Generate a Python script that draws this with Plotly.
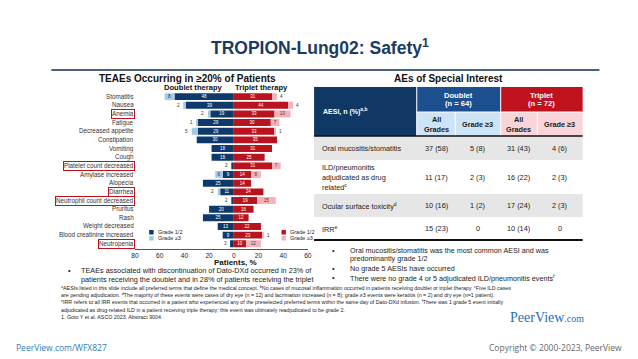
import plotly.graph_objects as go

W, H = 638, 359
FONT = "Liberation Sans, Arial, sans-serif"

# ---------------- data ----------------
categories = ["Stomatitis", "Nausea", "Anemia", "Fatigue", "Decreased appetite", "Constipation",
              "Vomiting", "Cough", "Platelet count decreased", "Amylase increased", "Alopecia",
              "Diarrhea", "Neutrophil count decreased", "Pruritus", "Rash", "Weight decreased",
              "Blood creatinine increased", "Neutropenia"]
highlighted = ["Anemia", "Platelet count decreased", "Diarrhea", "Neutrophil count decreased", "Neutropenia"]
doublet_grade12 = [48, 39, 19, 29, 29, 30, 18, 18, 2, 9, 25, 11, 2, 20, 25, 13, 9, 3]
doublet_grade3 = [8, 2, 2, 1, 5, 0, 0, 0, 0, 6, 0, 2, 0, 0, 0, 0, 0, 0]
triplet_grade12 = [31, 44, 33, 30, 33, 35, 31, 25, 31, 14, 14, 24, 19, 16, 12, 22, 23, 10]
triplet_grade3 = [4, 4, 13, 7, 1, 0, 0, 0, 7, 8, 0, 0, 15, 0, 0, 0, 1, 12]
tick_values = [-80, -60, -40, -20, 0, 20, 40, 60]
tick_labels = ["80", "60", "40", "20", "0", "20", "40", "60"]

aesi_rows = ["Oral mucositis/stomatitis",
             ["ILD/pneumonitis", "adjudicated as drug", "related<sup>c</sup>"],
             "Ocular surface toxicity<sup>d</sup>",
             "IRR<sup>e</sup>"]
doublet_all = ["37 (58)", "11 (17)", "10 (16)", "15 (23)"]
doublet_g3 = ["5 (8)", "2 (3)", "1 (2)", "0"]
triplet_all = ["31 (43)", "16 (22)", "17 (24)", "10 (14)"]
triplet_g3 = ["4 (6)", "2 (3)", "2 (3)", "0"]

right_bullets = [["Oral mucositis/stomatitis was the most common AESI and was", "predominantly grade 1/2"],
                 ["No grade 5 AESIs have occurred"],
                 ["There were no grade 4 or 5 adjudicated ILD/pneumonitis events<sup>f</sup>"]]
left_bullet = ["TEAEs associated with discontinuation of Dato-DXd occurred in 23% of",
               "patients receiving the doublet and in 28% of patients receiving the triplet"]
footnotes = [
    "<sup>a</sup>AESIs listed in this slide include all preferred terms that define the medical concept. <sup>b</sup>No cases of mucosal inflammation occurred in patients receiving doublet or triplet therapy. <sup>c</sup>Five ILD cases",
    "are pending adjudication. <sup>d</sup>The majority of these events were cases of dry eye (n = 12) and lacrimation increased (n = 8); grade \u22653 events were keratitis (n = 2) and dry eye (n=1 patient).",
    "<sup>e</sup>IRR refers to all IRR events that occurred in a patient who experienced any of the preselected preferred terms within the same day of Dato-DXd infusion. <sup>f</sup>There was 1 grade 5 event initially",
    "adjudicated as drug-related ILD in a patient receiving triple therapy; this event was ultimately readjudicated to be grade 2.",
    "1. Goto Y et al. ASCO 2023. Abstract 9004.",
]

# ---------------- styles ----------------
C_D12, C_D3 = "#0d3a6a", "#a4c9ea"
C_T12, C_T3 = "#b8131e", "#f4b3bb"
RED_BOX = "#c0101a"
NAVY = "#0f3864"
TITLE_C = "#1b3b60"


def X(px):
    return px / W


def Y(py):
    return 1 - py / H


annotations = []
shapes = []


def txt(x, y, s, size, color="#222", bold=False, xanchor="center", family=FONT):
    if bold:
        s = "<b>" + s + "</b>"
    annotations.append(dict(x=X(x), y=Y(y), xref="paper", yref="paper", text=s, showarrow=False,
                            xanchor=xanchor, yanchor="middle",
                            align="left" if xanchor == "left" else ("right" if xanchor == "right" else "center"),
                            font=dict(size=size, color=color, family=family)))


def rect(x0, y0, x1, y1, fill):
    shapes.append(dict(type="rect", xref="paper", yref="paper", x0=X(x0), x1=X(x1), y0=Y(y1), y1=Y(y0),
                       fillcolor=fill, line=dict(width=0), layer="below"))


def hline(x0, x1, y, color, width):
    shapes.append(dict(type="line", xref="paper", yref="paper", x0=X(x0), x1=X(x1), y0=Y(y), y1=Y(y),
                       line=dict(color=color, width=width)))


def vline(x, y0, y1, color, width):
    shapes.append(dict(type="line", xref="paper", yref="paper", x0=X(x), x1=X(x), y0=Y(y0), y1=Y(y1),
                       line=dict(color=color, width=width)))


fig = go.Figure()


def inside(vals):
    return [str(v) if v >= 6 else "" for v in vals]


traces = [
    ([-v for v in doublet_grade12], doublet_grade12, C_D12, "white"),
    ([-v for v in doublet_grade3], doublet_grade3, C_D3, "#333"),
    (triplet_grade12, triplet_grade12, C_T12, "white"),
    (triplet_grade3, triplet_grade3, C_T3, "#333"),
]
for xs, vals, col, tcol in traces:
    fig.add_trace(go.Bar(y=categories, x=xs, orientation="h",
                         marker=dict(color=col, line=dict(width=0)),
                         text=inside(vals), textposition="inside", insidetextanchor="middle",
                         constraintext="none", cliponaxis=False,
                         textangle=0, textfont=dict(size=4.5, color=tcol, family=FONT),
                         hoverinfo="skip", showlegend=False))

# outside labels for small segments
for i, cat in enumerate(categories):
    for side, g12, g3 in ((-1, doublet_grade12[i], doublet_grade3[i]), (1, triplet_grade12[i], triplet_grade3[i])):
        small = None
        if 0 < g3 < 6:
            small = g3
        elif g3 == 0 and 0 < g12 < 6:
            small = g12
        if small is not None:
            annotations.append(dict(x=side * (g12 + g3 + 4), y=cat, xref="x", yref="y", text=str(small),
                                    showarrow=False, font=dict(size=4.6, color="#333", family=FONT)))

# category labels (boxed for highlighted)
for cat in categories:
    annotations.append(dict(x=X(133), xref="paper", y=cat, yref="y", xanchor="right", yanchor="middle",
                            text=cat, showarrow=False, font=dict(size=6.3, color="#333", family=FONT),
                            bordercolor=RED_BOX if cat in highlighted else "rgba(0,0,0,0)",
                            borderwidth=1, borderpad=0, height=7.5))

# ---------------- titles ----------------
txt(320, 47, "TROPION-Lung02: Safety<sup>1</sup>", 17.5, TITLE_C, bold=True)
hline(48, 603, 70, "#46617f", 2)
txt(186, 78, "TEAEs Occurring in \u226520% of Patients", 10, "#111", bold=True)
txt(450, 78, "AEs of Special Interest", 10, "#111", bold=True)
txt(192, 88, "Doublet therapy", 7.6, "#111", bold=True)
txt(261, 88, "Triplet therapy", 7.6, "#111", bold=True)
txt(234, 262.5, "Patients, %", 8, "#111", bold=True)

# manual legends
for (lx, c1, c2) in ((147, C_D12, C_D3), (281, C_T12, C_T3)):
    rect(lx, 230, lx + 4.5, 234.5, c1)
    rect(lx, 236, lx + 4.5, 240.5, c2)
    txt(lx + 7, 232.2, "Grade 1/2", 5.5, "#222", xanchor="left")
    txt(lx + 7, 238.2, "Grade \u22653", 5.5, "#222", xanchor="left")

# left bullet
txt(66, 270.5, "\u2022", 7.5, "#222")
txt(76, 270.5, left_bullet[0], 7.3, "#222", xanchor="left")
txt(76, 279.5, left_bullet[1], 7.3, "#222", xanchor="left")

# ---------------- table ----------------
tx = [314, 418, 457, 503, 540, 586]
ty = [87, 112, 136]
row_y = [136, 160, 194, 217, 240]
rect(tx[0], ty[0], tx[1], ty[2], NAVY)
rect(tx[1], ty[0], tx[3], ty[1], "#1c4f8e")
rect(tx[3], ty[0], tx[5], ty[1], "#c0121d")
rect(tx[1], ty[1], tx[3], ty[2], "#cde3f6")
rect(tx[3], ty[1], tx[5], ty[2], "#f9d4d9")
for r in range(4):
    if r % 2 == 0:
        rect(tx[0], row_y[r], tx[5], row_y[r + 1], "#e6e6e6")
vline(tx[1], ty[0], ty[2], "white", 1)
vline(tx[3], ty[0], ty[2], "white", 1)
vline(tx[2], ty[1], ty[2], "white", 1)
vline(tx[4], ty[1], ty[2], "white", 1)
hline(tx[1], tx[5], ty[1], "white", 1)
hline(tx[0], tx[5], ty[2], "#111", 1.5)
hline(tx[0], tx[5], row_y[-1], "#111", 2)

txt(321, 111.5, "AESI, n (%)<sup>a,b</sup>", 7, "white", bold=True, xanchor="left")
txt((tx[1] + tx[3]) / 2, 95, "Doublet", 7.6, "white", bold=True)
txt((tx[1] + tx[3]) / 2, 103.5, "(n = 64)", 7.6, "white", bold=True)
txt((tx[3] + tx[5]) / 2, 95, "Triplet", 7.6, "white", bold=True)
txt((tx[3] + tx[5]) / 2, 103.5, "(n = 72)", 7.6, "white", bold=True)
sub_cols = [(tx[1], tx[2]), (tx[2], tx[3]), (tx[3], tx[4]), (tx[4], tx[5])]
for j, (a, b) in enumerate(sub_cols):
    cx = (a + b) / 2
    if j % 2 == 0:
        txt(cx, 119, "All", 7.3, "#1a1a1a", bold=True)
        txt(cx, 129, "Grades", 7.3, "#1a1a1a", bold=True)
    else:
        txt(cx, 124, "Grade \u22653", 7.3, "#1a1a1a", bold=True)

for r in range(4):
    cy = (row_y[r] + row_y[r + 1]) / 2
    label = aesi_rows[r]
    if isinstance(label, list):
        n = len(label)
        for k, line in enumerate(label):
            txt(320, cy + (k - (n - 1) / 2) * 9.6, line, 7.3, "#222", xanchor="left")
    else:
        txt(320, cy, label, 7.3, "#222", xanchor="left")
    for j, col in enumerate((doublet_all, doublet_g3, triplet_all, triplet_g3)):
        a, b = sub_cols[j]
        txt((a + b) / 2, cy, col[r], 7.3, "#222")

# right bullets
by = [[250.3, 258.6], [268], [277.5]]
for lines, ys in zip(right_bullets, by):
    txt(334, ys[0], "\u2022", 7.5, "#222")
    for line, yy in zip(lines, ys):
        txt(348, yy, line, 7.2, "#222", xanchor="left")

# footnotes
for k, line in enumerate(footnotes):
    txt(56, 287.5 + 7.4 * k, line, 5.3, "#222", xanchor="left")

# logo + footer
txt(510, 317, 'PeerView<span style="font-size:10px">.com</span>', 14, "#2a6db5", xanchor="left",
    family="Liberation Serif, Times New Roman, serif")
txt(10, 347, "PeerView.com/WFX827", 8.5, "#2f7cb9", xanchor="left", family="Open Sans, sans-serif")
txt(628, 347, "Copyright \u00a9 2000-2023, PeerView", 8.5, "#666", xanchor="right", family="Open Sans, sans-serif")

fig.update_layout(
    width=W, height=H, margin=dict(l=0, r=0, t=0, b=0),
    paper_bgcolor="white", plot_bgcolor="white",
    barmode="relative", bargap=0.2, showlegend=False,
    font=dict(family=FONT),
    xaxis=dict(domain=[X(132.7), X(307.7)], range=[-80, 60], tickvals=tick_values, ticktext=tick_labels,
               showline=True, linecolor="#555", linewidth=1, ticks="",
               tickfont=dict(size=6.6, color="#222", family=FONT), showgrid=False, zeroline=False,
               fixedrange=True),
    yaxis=dict(domain=[Y(248.8), Y(91.6)], type="category", categoryorder="array", categoryarray=categories,
               autorange="reversed", showticklabels=False, showgrid=False, zeroline=False, showline=False,
               fixedrange=True),
    annotations=annotations, shapes=shapes,
)

fig.write_html("out.html", config={"displayModeBar": False},
               post_script="document.body.style.margin='0';document.body.style.overflow='hidden';")
